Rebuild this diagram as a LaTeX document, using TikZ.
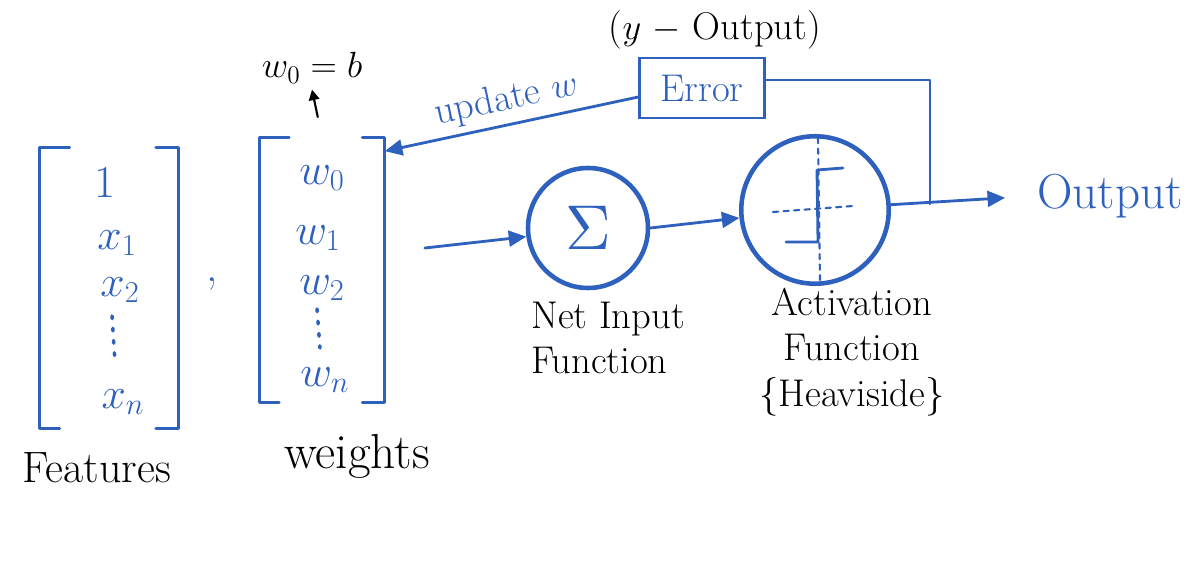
\documentclass[tikz,border=0pt]{standalone}
\usepackage{tikz}
\usetikzlibrary{
    arrows.meta,
    positioning
}
\usepackage{amsmath, amssymb}

\definecolor{penblue}{RGB}{46,96,190}

\tikzset{
    ink/.style={color=penblue, line width=1.6pt, line cap=round, line join=round},
    flow/.style={ink, -{Triangle[length=10pt, width=9pt]}},
    flowback/.style={ink, {Triangle[length=10pt, width=9pt]}-},
    unit/.style={circle, draw=penblue, line width=2.6pt, inner sep=0pt},
    entry/.style={text=penblue, inner sep=1pt, font=\fontsize{26}{30}\selectfont},
    note/.style={font=\fontsize{22}{26}\selectfont},
    dotcol/.style={ink, line width=2pt, dash pattern=on 1.5pt off 5.5pt},
    vec/.style={inner sep=0pt}
}

% square brackets round a column node
\newcommand{\brackets}[1]{%
    \draw[ink] ([xshift=0.6cm]#1.north west) -- (#1.north west) -- (#1.south west) -- ([xshift=0.4cm]#1.south west);
    \draw[ink] ([xshift=-0.45cm]#1.north east) -- (#1.north east) -- (#1.south east) -- ([xshift=-0.45cm]#1.south east);
}

\begin{document}
\begin{tikzpicture}[x=0.02cm, y=-0.02cm]
    \useasboundingbox (0,0) rectangle (1200,563);

    % feature and weight columns
    \node[vec, minimum width=2.76cm, minimum height=5.6cm] (feat) at (109,288) {};
    \node[vec, minimum width=2.5cm, minimum height=5.3cm] (wts) at (322,270) {};
    \brackets{feat}
    \brackets{wts}

    \node[entry] (f0) at (105,182) {1};
    \node[entry] (f1) at (117,243) {$x_1$};
    \node[entry] (f2) at (120,290) {$x_2$};
    \node[entry] (fn) at (123,402) {$x_n$};
    \coordinate (fdtop) at (112,316);
    \coordinate (fdbot) at (115,362);
    \draw[dotcol] (fdtop) -- (fdbot);
    \node[entry] (comma) at (212,284) {,};

    \node[entry] (w0) at (322,178) {$w_0$};
    \node[entry] (w1) at (318,238) {$w_1$};
    \node[entry] (w2) at (322,288) {$w_2$};
    \node[entry] (wn) at (325,380) {$w_n$};
    \coordinate (wdtop) at (317,309);
    \coordinate (wdbot) at (320,348);
    \draw[dotcol] (wdtop) -- (wdbot);

    \node[font=\fontsize{25}{30}\selectfont] (featlbl) at (97,468) {Features};
    \node[font=\fontsize{28}{32}\selectfont] (wtslbl) at (357,456) {weights};

    \node[note] (bias) at (312,68) {$w_0 = b$};
    \draw[line width=1.2pt, -{Triangle[length=6pt, width=6pt]}, shorten <=0.4cm] (wts.north) -- (bias.south);

    % error feedback
    \node[note, draw=penblue, line width=1.4pt, text=penblue, minimum width=2.5cm, minimum height=1.2cm] (err) at (702,88) {Error};
    \node[note] (ydiff) at (715,30) {($y$ $-$ Output)};
    \draw[flowback] ([yshift=-0.28cm]wts.north east) -- node[sloped, above, text=penblue, note] {update $w$} ([yshift=-0.18cm]err.west);

    % units
    \node[unit, minimum size=2.4cm, text=penblue] (sig) at (588,228) {\scalebox{3.6}{$\Sigma$}};
    \node[unit, minimum size=2.95cm] (act) at (815,210) {};
    \begin{scope}[shift={(act.center)}, ink]
        \draw[dashed, line width=1.2pt] (3,-72) -- (5,70);
        \draw[dashed, line width=1.2pt] (-42,2) -- (38,-4);
        \draw (28,-42) -- (2,-40) -- (3,32) -- (-29,32);
    \end{scope}

    \node[note, align=left] (siglbl) at (608,338) {Net Input\\Function};
    \node[note, align=center] (actlbl) at (852,352) {Activation\\Function\\\{Heaviside\}};

    \node[entry, font=\fontsize{28}{32}\selectfont] (out) at (1110,196) {Output};
    \coordinate (tap) at (930,204);

    \draw[flow] ([shift={(0.8cm,0.44cm)}]wts.east) -- (sig.188);
    \draw[flow] (sig.east) -- (act.186);
    \draw[flow, shorten >=0.6cm] (act.4) -- (out.west);
    \draw[ink] ([yshift=0.16cm]err.east) -| (tap);
\end{tikzpicture}
\end{document}
